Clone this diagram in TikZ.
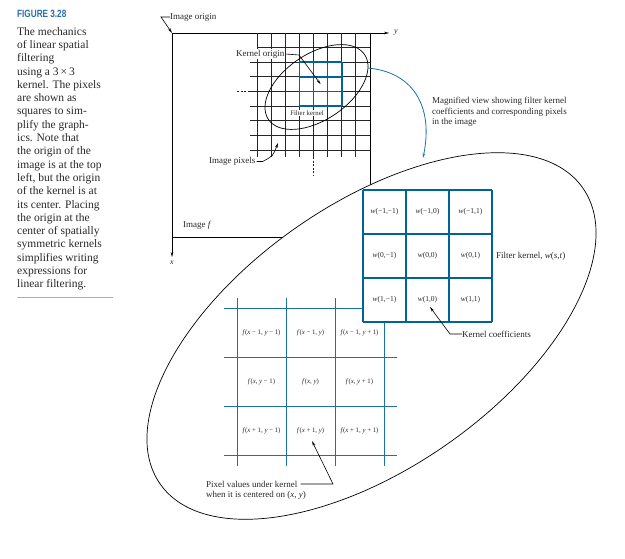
\documentclass[tikz,border=0pt]{standalone}
\usepackage{fontspec}
\setmainfont{Liberation Serif}
\newfontfamily\capsans{Liberation Sans}
\usetikzlibrary{arrows.meta}
\definecolor{kblue}{RGB}{0,100,150}
\definecolor{gblue}{RGB}{25,115,165}
\definecolor{txt}{RGB}{40,40,40}
\definecolor{figblue}{RGB}{40,110,175}
\definecolor{rulec}{RGB}{160,175,205}
\newcommand{\vi}[1]{\textit{#1}}
\begin{document}
\begin{tikzpicture}[x=1pt,y=-1pt,
  lbl/.style={font=\fontsize{9}{10.5}\selectfont, text=txt, inner sep=0pt},
  wcell/.style={font=\fontsize{7.5}{9}\selectfont, text=txt, inner sep=0pt},
  fcell/.style={font=\fontsize{6.8}{8}\selectfont, text=txt, inner sep=0pt},
  ln/.style={line width=0.7pt, draw=black},
  gridln/.style={line width=0.9pt, draw=black!85},
  arr/.style={-{Stealth[length=5pt,width=2.6pt]}, line width=0.6pt},
  kgrid/.style={line width=1.6pt, draw=kblue},
  fgrid/.style={line width=0.9pt, draw=gblue},
  wline/.style={line width=2.4pt, draw=kblue}
]
\useasboundingbox (0,0) rectangle (625,558);

% caption
\node[anchor=base west, inner sep=0pt, text=figblue, font=\capsans\bfseries\fontsize{10.5}{12}\selectfont] (fig) at (17,17.5) {\scalebox{0.78}[1]{FIGURE 3.28}};
\node[anchor=north west, inner sep=0pt, align=left, text=txt, font=\fontsize{11.5}{13.3}\selectfont] (cap) at (17,27) {The mechanics\\of linear spatial\\filtering\\using a 3\,×\,3\\kernel. The pixels\\are shown as\\squares to sim-\\plify the graph-\\ics. Note that\\the origin of the\\image is at the top\\left, but the origin\\of the kernel is at\\its center. Placing\\the origin at the\\center of spatially\\symmetric kernels\\simplifies writing\\expressions for\\linear filtering.};
\draw[line width=1pt, draw=rulec] (17,297) -- (113,297);

% image rectangle and axes
\coordinate (O) at (172,33);
\coordinate (BL) at (172,237);
\draw[ln] (BL) -- (O);
\draw[ln] (O) -- (370,33);
\draw[ln] (370,33) -- (370,300);
\draw[ln] (BL) -- (380,237);
\draw[ln, arr] (370,33) -- (389,33);
\node[lbl, font=\fontsize{8}{9}\selectfont\itshape] (ylab) at (396,33) {y};
\draw[ln, arr] (BL) -- (172,257);
\node[lbl, font=\fontsize{8}{9}\selectfont\itshape] (xlab) at (172,263) {x};
\node[lbl, anchor=west] (imgf) at (183,225) {Image \vi{f}};

% image grid
\foreach \i in {0,...,7} {
  \draw[gridln] ({257+14.125*\i},33) -- ({257+14.125*\i},157);
}
\draw[gridln] (257,47.6) -- (370,47.6);
\foreach \j in {2,...,8} {
  \draw[gridln] (250,{33+14.625*\j}) -- (370,{33+14.625*\j});
}
\draw[gridln, dash pattern=on 2pt off 1.5pt] (237,91.5) -- (250,91.5);
\draw[gridln, dash pattern=on 2pt off 1.5pt] (313.5,157) -- (313.5,176);
% kernel in image
\foreach \i in {0,...,3} {
  \draw[kgrid] ({299.4+14.125*\i},62.25) -- ({299.4+14.125*\i},106.1);
}
\foreach \i in {0,...,3} {
  \draw[kgrid] (299.4,{62.25+14.625*\i}) -- (341.75,{62.25+14.625*\i});
}
\coordinate (kc0) at (320.6,84.2);
\node[fcell, fill=white, inner sep=0.6pt] (fk) at (307,113) {Filter kernel};

% small ellipse
\draw[line width=0.7pt] (316.5,87) ellipse [x radius=58, y radius=33, rotate=34];
\coordinate (seR) at (368,68);

% labels top
\node[lbl, anchor=west] (io) at (170,17) {Image origin};
\draw[line width=0.6pt, arr] (io.west) -- ++(-9,0) -- (O);
\node[lbl, anchor=west, fill=white, inner sep=1pt] (ko) at (235,54) {Kernel origin};
\draw[line width=0.6pt, arr] (ko.east) -- (299,55) -- (kc0);
\node[lbl, anchor=west, fill=white, inner sep=1pt] (ip) at (208,161.5) {Image pixels};
\draw[line width=0.6pt, arr] (ip.east) -- ++(6,0) .. controls (273,156) .. (278,143);

% big ellipse
\draw[line width=0.7pt, fill=white] (371.5,336) ellipse [x radius=258, y radius=132, rotate=35];
\coordinate (beT) at (423,158);
\draw[line width=0.8pt, draw=gblue, -{Stealth[length=5pt,width=2.6pt]}] (seR) .. controls (412,72) and (434,105) .. (beT);
\node[lbl, anchor=north west, align=left] (mag) at (432,97) {Magnified view showing filter kernel\\coefficients and corresponding pixels\\in the image};

% f grid
\foreach \x in {237,286,335,384} {
  \draw[fgrid] (\x,298) -- (\x,466);
}
\foreach \y in {308,357,406,455} {
  \draw[fgrid] (224,\y) -- (397,\y);
}
\node[fcell] (f11) at (261.5,332.5) {\vi{f}(\vi{x} − 1, \vi{y} − 1)};
\node[fcell] (f12) at (310.5,332.5) {\vi{f}(\vi{x} − 1, \vi{y})};
\node[fcell] (f13) at (359.5,332.5) {\vi{f}(\vi{x} − 1, \vi{y} + 1)};
\node[fcell] (f21) at (261.5,381.5) {\vi{f}(\vi{x}, \vi{y} − 1)};
\node[fcell] (f22) at (310.5,381.5) {\vi{f}(\vi{x}, \vi{y})};
\node[fcell] (f23) at (359.5,381.5) {\vi{f}(\vi{x}, \vi{y} + 1)};
\node[fcell] (f31) at (261.5,430.5) {\vi{f}(\vi{x} + 1, \vi{y} − 1)};
\node[fcell] (f32) at (310.5,430.5) {\vi{f}(\vi{x} + 1, \vi{y})};
\node[fcell] (f33) at (359.5,430.5) {\vi{f}(\vi{x} + 1, \vi{y} + 1)};

% w kernel
\fill[white] (363,190) rectangle (492,322);
\foreach \x in {363,406,449,492} {
  \draw[wline] (\x,190) -- (\x,322);
}
\foreach \y in {190,234,278,322} {
  \draw[wline] (363,\y) -- (492,\y);
}
\node[wcell] (w11) at (384.5,212) {\vi{w}(−1,−1)};
\node[wcell] (w12) at (427.5,212) {\vi{w}(−1,0)};
\node[wcell] (w13) at (470.5,212) {\vi{w}(−1,1)};
\node[wcell] (w21) at (384.5,256) {\vi{w}(0,−1)};
\node[wcell] (w22) at (427.5,256) {\vi{w}(0,0)};
\node[wcell] (w23) at (470.5,256) {\vi{w}(0,1)};
\node[wcell] (w31) at (384.5,300) {\vi{w}(1,−1)};
\node[wcell] (w32) at (427.5,300) {\vi{w}(1,0)};
\node[wcell] (w33) at (470.5,300) {\vi{w}(1,1)};
\node[lbl, anchor=west] (fkl) at (496,256) {Filter kernel, \vi{w}(\vi{s},\vi{t})};

\node[lbl, anchor=west] (kcoef) at (462,334) {Kernel coefficients};
\draw[line width=0.6pt, arr] (kcoef.west) -- (450,334) -- (430,307);

\node[lbl, anchor=west] (pv1) at (206,484) {Pixel values under kernel};
\node[lbl, anchor=west] (pv2) at (206,495.5) {when it is centered on (\vi{x}, \vi{y})};
\draw[line width=0.6pt, arr] (pv1.east) ++(3,0) -- (333,484) -- (312,441);
\end{tikzpicture}
\end{document}
